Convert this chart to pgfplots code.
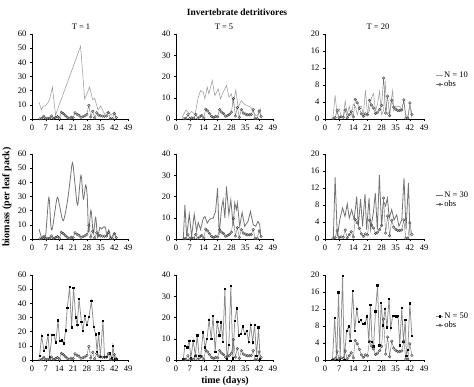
\documentclass[border=0pt]{standalone}
\usepackage{pgfplots}
\pgfplotsset{compat=1.18}
\usepackage{pgfplotstable}
\usepackage{fontspec}
\setmainfont{Liberation Serif}

\pgfplotstableread{
day val
4 0.1
5 0.3
6 2.0
7 0.3
8 0.5
9 0.4
10 2.1
11 0.3
12 1.0
13 1.7
14 0.5
15 4.6
16 3.8
17 2.5
18 1.2
19 0.6
20 1.2
21 1.0
22 4.4
23 3.3
24 2.6
25 1.3
26 1.6
27 2.2
28 3.2
29 9.6
30 1.4
31 5.4
32 0.8
33 4.4
34 2.8
35 2.3
36 2.0
37 2.0
38 2.1
39 4.5
40 0.2
41 0.2
42 3.8
43 1.1
}\obsdata

\pgfplotsset{
  panel/.style={scale only axis, height=85pt, xmin=0, xmax=49, ymin=0,
    xtick={0,7,...,49}, axis x line=bottom, axis y line=left,
    axis line style={-, line width=0.5pt}, tick align=outside,
    major tick length=2pt, tick style={black, line width=0.4pt},
    ticklabel style={font=\fontsize{8.5}{8.5}\selectfont},
    /pgf/number format/assume math mode=true,
    legend image code/.code={\draw[mark repeat=2,mark phase=2,##1] plot coordinates {(0pt,0pt) (3.5pt,0pt) (7pt,0pt)};},
    legend style={at={(1.12,0.46)}, anchor=west, draw=none, fill=none,
      font=\fontsize{8.5}{8.5}\selectfont, inner sep=0pt, row sep=0.5pt,
      nodes={inner sep=0.6pt}},
    legend cell align=left},
  c1/.style={panel, width=96pt, ymax=60, ytick={0,10,...,60}},
  c2/.style={panel, width=97pt, ymax=40, ytick={0,10,...,40}},
  c3/.style={panel, width=99pt, ymax=20, ytick={0,4,...,20}},
  obs/.style={black!55, line width=0.4pt, mark=o, mark size=1.3pt,
    mark options={black!70, fill=white, line width=0.45pt, solid}},
  n10/.style={black!38, line width=0.55pt, no markers},
  n30/.style={black!55, line width=0.8pt, no markers},
  n50/.style={black!45, line width=0.75pt, mark=square*, mark size=0.7pt,
    mark options={black, solid}},
}

\begin{document}
\begin{tikzpicture}
\useasboundingbox (0,0) rectangle (474pt,387pt);

\node[font=\bfseries\fontsize{9.5}{9.5}\selectfont] at (237pt,375pt) {Invertebrate detritivores};
\node[font=\fontsize{8.5}{8.5}\selectfont] at (81pt,360pt) {T = 1};
\node[font=\fontsize{8.5}{8.5}\selectfont] at (224pt,360pt) {T = 5};
\node[font=\fontsize{8.5}{8.5}\selectfont] at (378pt,360pt) {T = 20};
\node[font=\bfseries\fontsize{10}{10}\selectfont, rotate=90] at (7pt,190pt) {biomass (per leaf pack)};
\node[font=\bfseries\fontsize{10}{10}\selectfont] at (225pt,6pt) {time (days)};

% ---------- Row 1 : N = 10 ----------
\begin{axis}[c1, at={(32pt,268pt)}, anchor=south west]
\addplot[n10] coordinates {(3.6,11.8)(4.8,6.4)(5.6,8.7)(7,9.5)(8.2,11.6)(9,14)(10.4,22.5)(12,2.8)(24.8,51.3)(26.9,14)(29.4,22.5)(31,13.5)(32,14.7)(33.7,6.4)(35,9.2)(37,3.5)(38.8,5.2)(40.5,2.8)(42,5)(43,0.5)};
\addplot[obs] table[x=day,y=val] {\obsdata};
\end{axis}

\begin{axis}[c2, at={(176pt,268pt)}, anchor=south west]
\addplot[n10] coordinates {(3,0.5)(5,4.3)(6.7,2.4)(7.9,3.6)(9.6,2)(11.2,10)(12.4,13.4)(13.8,12.6)(14.6,9.5)(15.8,15)(16.6,11.8)(18.3,18.2)(19.6,11)(21.3,14.2)(22.5,9.5)(23.8,12.6)(25.5,15.8)(26.8,10.3)(28,11.8)(28.9,7.1)(30.2,13.7)(31.4,5.5)(33,8.7)(34.7,6.8)(36,6.3)(37.8,5.5)(39,3.6)(40.3,1.6)(41.4,2)(42.6,4.7)(43,0.5)};
\addplot[obs] table[x=day,y=val] {\obsdata};
\end{axis}

\begin{axis}[c3, at={(325pt,268pt)}, anchor=south west]
\addplot[n10] coordinates {(4,0.5)(5,5.6)(6,1)(7,2.5)(8,0.5)(9,0.5)(10,4.3)(11,1)(12,3)(13,1)(14,3.5)(15,3)(16,1)(17,3)(18,3)(19,1)(20,6.8)(21,1)(22,2)(23,5)(24,6)(25,2)(26,3.5)(27,6.5)(28,1)(29,2)(29.8,9)(30.5,2)(31,1)(32,2)(33.5,6.7)(34,2)(35,3)(36,3)(37,3)(38,2)(39,4.3)(40,1)(41,0.5)(42,3)(43,0.2)};
\addplot[obs] table[x=day,y=val] {\obsdata};
\legend{N = 10, obs}
\end{axis}

% ---------- Row 2 : N = 30 ----------
\begin{axis}[c1, at={(32pt,148pt)}, anchor=south west]
\addplot[n30, smooth, tension=0.5] coordinates {(3.6,7)(5,0.5)(6,1)(7,3)(8.6,29.3)(9.6,10)(10.4,7.5)(12.8,29)(14,24)(15.9,12.9)(18,26)(19.5,42)(20.7,53.9)(22,38)(23.3,23.9)(25,45)(26.2,28)(27.4,38)(28.2,30)(28.9,5)(30.1,20.4)(31.3,4)(32.5,15.2)(33.5,1)(34.6,8.2)(35.5,7)(36.5,8.5)(37.5,8)(38.3,2)(39.2,6.5)(40.2,1)(41.2,2.5)(42,4)(43,1)};
\addplot[obs] table[x=day,y=val] {\obsdata};
\end{axis}

\begin{axis}[c2, at={(176pt,148pt)}, anchor=south west]
\addplot[n30] coordinates {(3.7,0)(4.5,16)(5.4,1.2)(6.7,11.7)(7.9,1.2)(9.2,11.7)(10.4,3.6)(11.2,7.8)(12.4,4.4)(13.8,9.8)(14.6,10.6)(15.8,7.5)(16.8,9)(17.9,9.8)(18.8,9.8)(20,13)(21,24)(21.8,2)(23,14.5)(23.8,18.4)(24.7,9.8)(25.5,24.7)(26.7,11.4)(27.7,18.4)(28.9,6)(29.7,17)(30.5,13.8)(31,17)(32.2,6)(33.4,12.5)(34.7,6)(36.4,8.3)(37.6,13)(39,6.7)(40.3,6)(41.4,8.3)(42.3,6.7)(42.8,1.2)};
\addplot[obs] table[x=day,y=val] {\obsdata};
\end{axis}

\begin{axis}[c3, at={(325pt,148pt)}, anchor=south west]
\addplot[n30] coordinates {(4.1,0)(5,14.5)(6.1,0.6)(7.4,4.7)(8.7,7.3)(9.9,5.3)(11,8.3)(12,4.9)(13.2,6.9)(14.4,4.5)(15.7,10)(16.5,3)(17.6,9.4)(18.6,3)(19.8,10.6)(20.6,2.2)(21.8,9.6)(22.6,2.2)(23.9,6.1)(24.9,10.8)(25.9,2.2)(26.9,15.1)(28,3)(28.9,8.9)(30,7.8)(30.9,9.6)(31.8,4.9)(33,6.9)(34.2,4.5)(35.5,5.7)(36.6,3)(38,4.5)(39.1,14.4)(40.1,2.2)(41.3,13.2)(42.1,0.6)};
\addplot[obs] table[x=day,y=val] {\obsdata};
\legend{N = 30, obs}
\end{axis}

% ---------- Row 3 : N = 50 ----------
\begin{axis}[c1, at={(32pt,27pt)}, anchor=south west]
\addplot[n50] coordinates {(3.9,3)(4.9,17.2)(6.1,6.6)(7,8.9)(8.2,17.6)(9,2.4)(10.2,17.6)(11.2,17.6)(12.1,12.5)(13.3,28)(14.1,13.4)(15.3,13.9)(16.2,11.8)(17.2,21)(18,37)(19.2,51.5)(20.2,23)(21.2,51)(22.3,30)(23.1,24.7)(24,43)(25.2,27)(26,20.5)(27,31.3)(28,24.7)(29.1,30.4)(30.3,41.6)(31.5,23.5)(32.5,18)(33.2,5.9)(34,18.8)(34.9,2.4)(36.2,27.8)(37,2.4)(38.3,2.4)(39.6,4.7)(40.8,1.2)(41.3,10)(42.2,0.7)(43,0.7)};
\addplot[obs] table[x=day,y=val] {\obsdata};
\end{axis}

\begin{axis}[c2, at={(176pt,27pt)}, anchor=south west]
\addplot[n50] coordinates {(3.7,0.5)(4.5,6.7)(5.7,6)(6.7,9.1)(7.5,0.8)(8.7,9.1)(9.8,2)(10.7,11.5)(11.7,2)(12.5,2)(13.7,13)(14.7,6)(15.7,9.9)(16.7,19)(17.8,9.9)(18.7,20.9)(19.8,3.9)(20.8,18)(22,11.5)(22.8,17.7)(23.7,8.6)(24.7,33.4)(25.7,0.2)(26.7,7)(27.7,35)(28.7,0.8)(29.7,18.5)(30.7,24.3)(31.7,11.5)(32.7,12.2)(33.7,15.8)(34.7,12.2)(35.7,13.8)(36.7,8.6)(37.7,16.5)(38.7,8.3)(39.7,16.5)(40.7,2)(41.7,15.4)(42.5,0.2)};
\addplot[obs] table[x=day,y=val] {\obsdata};
\end{axis}

\begin{axis}[c3, at={(325pt,27pt)}, anchor=south west]
\addplot[n50] coordinates {(3.7,0)(4.8,9.9)(5.8,0)(6.7,15.9)(7.5,0)(8.7,19.8)(9.5,0)(10.7,6.9)(11.7,7.9)(12.5,4.5)(13.7,16.2)(14.7,6.9)(15.7,12)(16.7,8.9)(17.8,9.4)(18.7,8.5)(19.8,8.6)(20.8,10.3)(21.7,4.3)(22.5,13)(23.3,4.3)(24,3.2)(25,11.4)(26,17.6)(27,3.4)(27.8,13.5)(28.7,8.1)(29.7,12)(30.7,7.7)(31.7,14.4)(32.5,7.5)(33.5,10.4)(34.3,10.4)(35.3,10.3)(36.2,10.4)(37,3.4)(38,12.2)(38.8,4.2)(39.7,9.4)(40.3,1)(41,2.4)(42,13.3)(43,5.7)};
\addplot[obs] table[x=day,y=val] {\obsdata};
\legend{N = 50, obs}
\end{axis}
\end{tikzpicture}
\end{document}
